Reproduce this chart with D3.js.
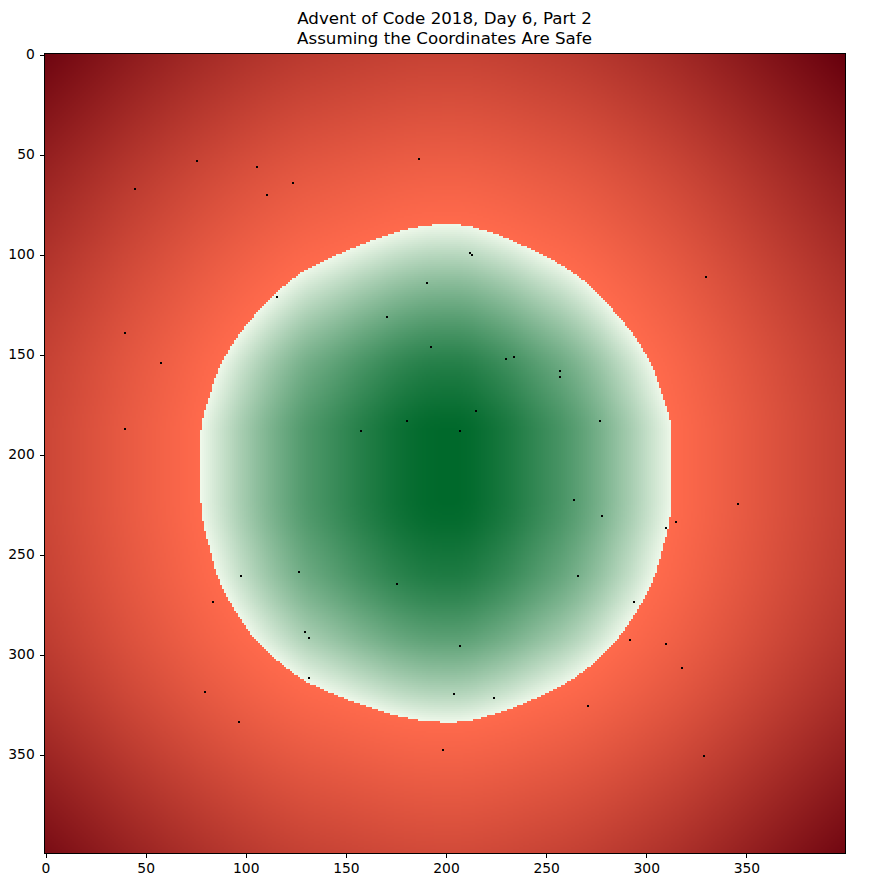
<!DOCTYPE html>
<html><head><meta charset="utf-8">
<script src="https://cdn.jsdelivr.net/npm/d3@7"></script>
<style>html,body{margin:0;padding:0;background:#fff}svg{display:block}
text{font-family:"DejaVu Sans";fill:#000}</style></head>
<body><div id="chart"></div>
<script>
const coordX = [76,45,106,124,111,187,191,116,171,40,193,212,213,330,230,234,58,40,181,158,98,127,176,84,130,132,132,257,257,215,207,277,264,278,315,310,346,266,294,292,310,318,207,80,97,199,204,224,271,329];
const coordY = [53,67,56,64,70,52,114,121,131,139,146,99,100,111,152,151,154,187,183,188,261,259,265,274,289,292,312,158,161,178,188,183,223,231,234,237,225,261,274,293,295,307,296,319,334,348,320,322,326,351];
const gridSize = 400;
const safeLimit = 10020;   // edge of the green region
const xTickValues = [0,50,100,150,200,250,300,350];
const yTickValues = [0,50,100,150,200,250,300,350];
const titleLines = ["Advent of Code 2018, Day 6, Part 2","Assuming the Coordinates Are Safe"];
const safeColors = ["#00692b","#eef8ea"];
const unsafeColors = ["#ff6a4c","#67000d"];

const W=889,H=889;
const x=d3.scaleLinear().domain([-0.5,gridSize-0.5]).range([44.5,845.5]);
const y=d3.scaleLinear().domain([-0.5,gridSize-0.5]).range([53.5,853.5]);
// cell edges on the pixel grid, as the image resampling lays them out
const xCell=d3.scaleLinear().domain([0,gridSize]).range([44.495,845.495]);
const yCell=d3.scaleLinear().domain([0,gridSize]).range([53.7,853.3]);
const xe=v=>Math.floor(xCell(v));
const ye=v=>Math.round(yCell(v));

// total Manhattan distance of each grid cell to all coordinates
const field=new Float64Array(gridSize*gridSize);
let lo=Infinity,hi=-Infinity;
for(let j=0;j<gridSize;j++)for(let i=0;i<gridSize;i++){
  let s=0;for(let k=0;k<coordX.length;k++)s+=Math.abs(i-coordX[k])+Math.abs(j-coordY[k]);
  field[j*gridSize+i]=s;if(s<lo)lo=s;if(s>hi)hi=s;
}
const safe=d3.scaleLinear().domain([lo,safeLimit]).range(safeColors).interpolate(d3.interpolateRgb);
const unsafe=d3.scaleLinear().domain([safeLimit,hi]).range(unsafeColors).interpolate(d3.interpolateRgb);

const cv=document.createElement("canvas");cv.width=W;cv.height=H;
const c=cv.getContext("2d");
for(let j=0;j<gridSize;j++){
  const y0=ye(j),y1=ye(j+1);
  for(let i=0;i<gridSize;i++){
    const d=field[j*gridSize+i];
    c.fillStyle=d<safeLimit?safe(d):unsafe(d);
    const x0=xe(i),x1=xe(i+1);
    c.fillRect(x0,y0,x1-x0,y1-y0);
  }
}
const svg=d3.select("#chart").append("svg").attr("width",W).attr("height",H).attr("viewBox",`0 0 ${W} ${H}`);
svg.append("image").attr("x",0).attr("y",0).attr("width",W).attr("height",H)
  .attr("href",cv.toDataURL("image/png")).style("image-rendering","pixelated");

svg.append("g").selectAll("rect").data(d3.range(coordX.length)).join("rect")
  .attr("x",k=>xe(coordX[k])).attr("y",k=>ye(coordY[k]))
  .attr("width",k=>xe(coordX[k]+1)-xe(coordX[k])).attr("height",k=>ye(coordY[k]+1)-ye(coordY[k]))
  .attr("fill","#000").attr("shape-rendering","crispEdges");

const ax=d3.axisBottom(x).tickValues(xTickValues).tickFormat(d3.format("d")).tickSize(4.86).tickPadding(4.86);
const ay=d3.axisLeft(y).tickValues(yTickValues).tickFormat(d3.format("d")).tickSize(4.86).tickPadding(4.86);
const gx=svg.append("g").attr("transform","translate(0,853.5)").call(ax);
const gy=svg.append("g").attr("transform","translate(44.5,0)").call(ay);
[gx,gy].forEach(g=>{
  g.select(".domain").remove();
  g.selectAll("text").attr("font-family","DejaVu Sans").attr("font-size",13.89).attr("fill","#000");
  g.selectAll("line").attr("stroke","#000").attr("stroke-width",1).attr("shape-rendering","crispEdges");
});
svg.append("rect").attr("x",44.5).attr("y",53.5).attr("width",801).attr("height",800)
  .attr("fill","none").attr("stroke","#000").attr("stroke-width",1).attr("shape-rendering","crispEdges");

svg.append("g").selectAll("text").data(titleLines).join("text")
  .attr("x",444.5).attr("y",(d,i)=>24+i*20.3).attr("text-anchor","middle")
  .attr("font-family","DejaVu Sans").attr("font-size",16.67).text(d=>d);
</script></body></html>
